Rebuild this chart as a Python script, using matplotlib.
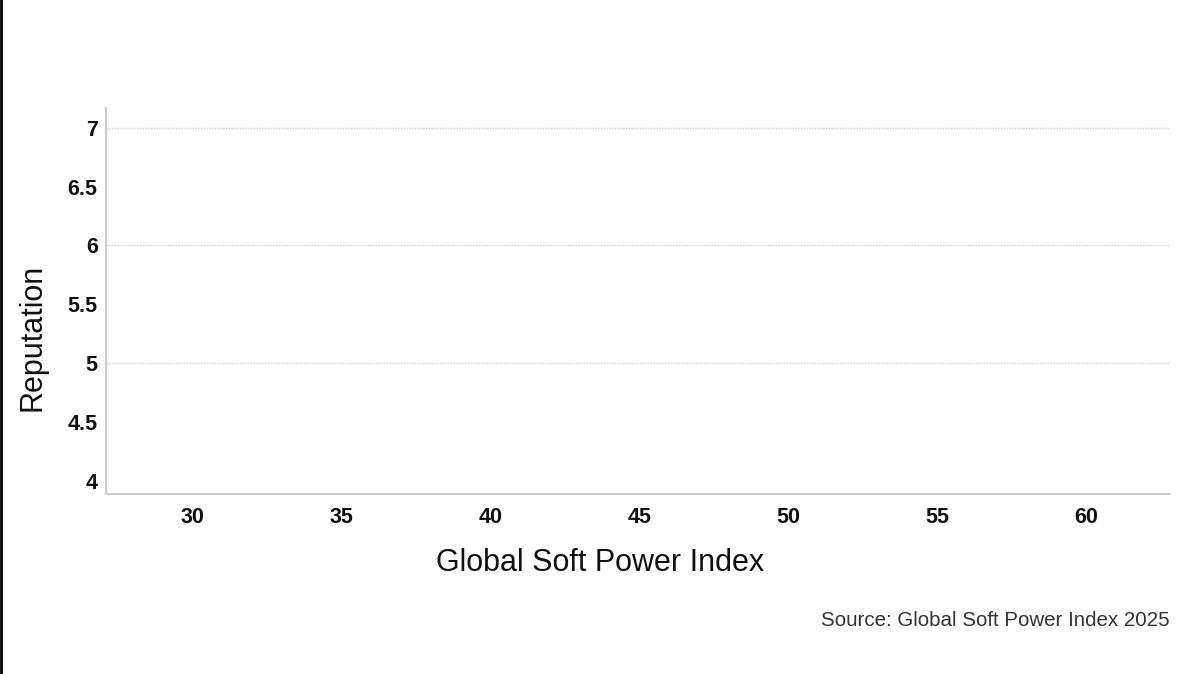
import matplotlib.pyplot as plt
from matplotlib.lines import Line2D

plt.rcParams['font.family'] = ['Liberation Sans', 'DejaVu Sans']

# the reference frame shows the axes before any points are drawn
countries = []
soft_power = []
reputation = []

x_ticks = [30, 35, 40, 45, 50, 55, 60]
y_ticks = [4, 4.5, 5, 5.5, 6, 6.5, 7]
y_grid = [5, 6, 7]

fig = plt.figure(figsize=(12, 6.74), dpi=100)
ax = fig.add_axes([0.0883, 0.267, 0.8867, 0.573])

ax.scatter(soft_power, reputation, s=60, color="#1f77b4")

ax.set_xlim(27.1, 62.8)
ax.set_ylim(3.885, 7.17)

for y in y_grid:
    ax.axhline(y, color="#d0d0d0", lw=1, ls=(0, (1, 1)), zorder=0)

ax.set_xticks(x_ticks)
ax.set_xticklabels([str(v) for v in x_ticks])
ax.set_yticks(y_ticks)
ax.set_yticklabels([f"{v:g}" for v in y_ticks])
ax.tick_params(axis="x", pad=9)
ax.tick_params(axis="y", pad=6)
ax.tick_params(length=0, labelsize=15.5, colors="#111111")
for lab in ax.get_xticklabels() + ax.get_yticklabels():
    lab.set_fontweight("bold")

for side in ["top", "right"]:
    ax.spines[side].set_visible(False)
for side in ["left", "bottom"]:
    ax.spines[side].set_color("#cccccc")
    ax.spines[side].set_linewidth(1.5)

# axis titles are centred on the whole frame, not on the axes
fig.text(0.5, 1 - 563 / 674, "Global Soft Power Index", ha="center",
         va="center", fontsize=22, color="#111111")
fig.text(33 / 1200, 0.5, "Reputation", ha="center", va="center",
         rotation=90, fontsize=22, color="#111111")

fig.text(0.975, 1 - 620 / 674, "Source: Global Soft Power Index 2025",
         ha="right", va="center", fontsize=14.8, color="#333333")

# thin dark edge on the left of the frame
fig.add_artist(Line2D([0.001, 0.001], [0, 1], color="black", lw=2,
                      transform=fig.transFigure))

fig.savefig("out.png", dpi=100)
